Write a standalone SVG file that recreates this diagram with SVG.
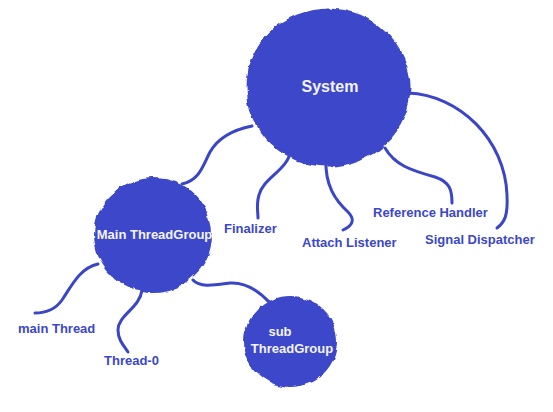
<svg xmlns="http://www.w3.org/2000/svg" width="553" height="412" viewBox="0 0 553 412">
  <defs>
    <filter id="rough" x="-10%" y="-10%" width="120%" height="120%">
      <feTurbulence type="fractalNoise" baseFrequency="0.07" numOctaves="3" seed="5" result="n"/>
      <feDisplacementMap in="SourceGraphic" in2="n" scale="6" xChannelSelector="R" yChannelSelector="G"/>
    </filter>
  </defs>
  <style>
    .blob { fill: #3c47c9; filter: url(#rough); }
    .ntext { font-family: "Liberation Sans", Arial, sans-serif; font-weight: bold; fill: #f4f4ff; text-anchor: middle; }
    .label { font-family: "Liberation Sans", Arial, sans-serif; font-weight: bold; font-size: 13px; fill: #3c47c9; }
    .conn path { fill: none; stroke: #3a46c8; stroke-width: 3; stroke-linecap: round; }
  </style>
  <rect width="553" height="412" fill="#ffffff"/>

  <g id="connectors" class="conn">
    <path d="M182,184 C200,180 203,165 210,152 C218,138 232,130 252,126"/>
    <path d="M291,150 C288,170 263,178 259,195 C256,205 258,212 258,218"/>
    <path d="M326,160 C325,185 335,200 348,212 C356,220 352,226 343,230"/>
    <path d="M385,148 C395,165 410,170 435,177 C450,182 452,190 452,203"/>
    <path d="M408,93 C460,95 505,140 507,195 C508,215 505,222 497,228"/>
    <path d="M98,264 C80,268 72,285 62,300 C55,310 45,313 35,313"/>
    <path d="M142,290 C140,308 118,315 118,330 C118,340 124,346 128,352"/>
    <path d="M193,280 C200,288 215,285 230,283 C245,282 258,290 270,303"/>
  </g>

  <g id="system">
    <ellipse class="blob" cx="328.5" cy="87.5" rx="82" ry="79"/>
    <text class="ntext" x="330" y="92" font-size="16">System</text>
  </g>

  <g id="main-threadgroup">
    <ellipse class="blob" cx="153" cy="235" rx="59" ry="57"/>
    <text class="ntext" x="154.5" y="239" font-size="13">Main ThreadGroup</text>
  </g>

  <g id="sub-threadgroup">
    <ellipse class="blob" cx="290.5" cy="341.5" rx="46.5" ry="45.5"/>
    <text class="ntext" x="280" y="336" font-size="13">sub</text>
    <text class="ntext" x="292" y="353" font-size="13">ThreadGroup</text>
  </g>

  <g id="finalizer"><text class="label" x="224" y="233">Finalizer</text></g>
  <g id="attach-listener"><text class="label" x="302" y="247">Attach Listener</text></g>
  <g id="reference-handler"><text class="label" x="373" y="217">Reference Handler</text></g>
  <g id="signal-dispatcher"><text class="label" x="425" y="244" font-size="12.7">Signal Dispatcher</text></g>
  <g id="main-thread"><text class="label" x="18" y="333">main Thread</text></g>
  <g id="thread-0"><text class="label" x="104" y="365">Thread-0</text></g>
</svg>
